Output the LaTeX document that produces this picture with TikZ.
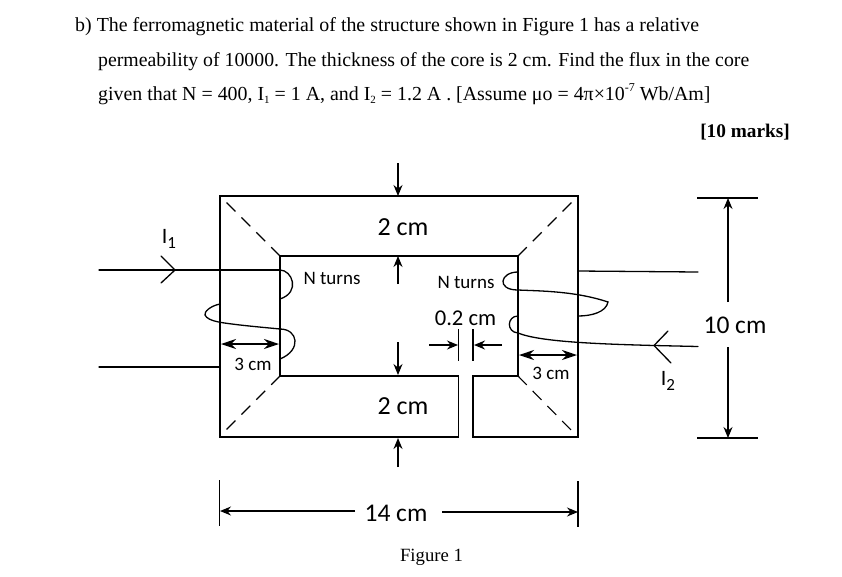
\documentclass[tikz,border=0pt]{standalone}
\usepackage{fontspec}
\setmainfont{Liberation Serif}
\newfontfamily\calib{Carlito}
\usetikzlibrary{arrows.meta}
\tikzset{
  core/.style={line width=1.4pt,line join=miter},
  wire/.style={line width=1.3pt,line cap=round},
  diag/.style={line width=1.1pt,dash pattern=on 12.5pt off 8.5pt},
  dim/.style={line width=1.2pt,-{Stealth[length=11pt,width=9pt]}},
  dimb/.style={line width=1.3pt,{Stealth[length=15pt,width=10pt]}-{Stealth[length=15pt,width=10pt]}},
  tick/.style={line width=1.2pt},
  body/.style={anchor=base west,inner sep=0pt,font=\fontsize{19.9}{22}\selectfont},
  lab/.style={inner sep=0pt,font=\calib\fontsize{25.5}{27}\selectfont},
  lbs/.style={inner sep=0pt,font=\calib\fontsize{19}{21}\selectfont},
}
\newcommand{\sbs}[1]{\raisebox{-0.18em}{\fontsize{11}{11}\selectfont #1}}
\begin{document}
\begin{tikzpicture}[x=1pt,y=-1pt]
\useasboundingbox (0,0) rectangle (842,576);
% core corners
\coordinate (OTL) at (220,196); \coordinate (OTR) at (578,196);
\coordinate (OBL) at (220,437); \coordinate (OBR) at (578,437);
\coordinate (ITL) at (280,256); \coordinate (ITR) at (518,256);
\coordinate (IBL) at (280,376); \coordinate (IBR) at (518,376);
\coordinate (GTL) at (458.7,376); \coordinate (GBL) at (458.7,437);
\coordinate (GTR) at (473,376); \coordinate (GBR) at (473,437);
% text
\node[body] (t1) at (75,31) {b) The ferromagnetic material of the structure shown in Figure 1 has a relative};
\node[body,font=\fontsize{19.8}{22}\selectfont] (t2) at (98,66) {permeability of 10000. The thickness of the core is 2 cm. Find the flux in the core};
\node[body] (t3) at (98,100) {given that N = 400, I\sbs{1} = 1 A, and I\sbs{2} = 1.2 A . [Assume μo = 4π×10\raisebox{0.45em}{\fontsize{12}{12}\selectfont -7} Wb/Am]};
\node[body,anchor=base east,font=\fontsize{19.3}{21}\selectfont\bfseries] (marks) at (790,137) {[10 marks]};
\node[body,anchor=base,font=\fontsize{18.7}{20}\selectfont] (fig) at (431.5,561) {Figure 1};
% core outline
\draw[core] (GTL) -- (IBL) -- (ITL) -- (ITR) -- (IBR) -- (GTR) -- (GBR) -- (OBR) -- (OTR) -- (OTL) -- (OBL) -- (GBL) -- cycle;
% diagonals
\draw[diag] (ITL) -- (224,200);
\draw[diag] (ITR) -- (574,200);
\draw[diag] (IBL) -- (224,432);
\draw[diag] (IBR) -- (574,433);
% left winding
\coordinate (L1) at (99,270); \coordinate (L2) at (99,367); \coordinate (L3) at (220,367);
\coordinate (CH1) at (175,270);
\draw[wire] (L1) -- (280,270);
\draw[wire] (161,256) -- (CH1) -- (161,283);
\draw[wire] (280,270) .. controls (292,270) and (301,292) .. (280,299);
\draw[wire] (220,304) .. controls (210,306) and (204,312) .. (205,315) .. controls (208,322) and (225,323) .. (240,325) .. controls (258,327) and (270,328) .. (280,329) .. controls (298,329) and (302,350) .. (280,359);
\draw[wire] (L2) -- (L3);
% right winding
\coordinate (R1) at (698,272); \coordinate (R2) at (698,346.5); \coordinate (CH2) at (654,345.5);
\draw[wire] (578,271) -- (R1);
\draw[wire] (518,272) .. controls (500,272) and (496,290) .. (518,290) .. controls (540,291) and (575,291) .. (608,302) .. controls (606,312) and (592,316) .. (578,316);
\draw[wire] (518,316) .. controls (507,316) and (506,332) .. (518,333) .. controls (540,342) and (600,344) .. (CH2) -- (R2);
\draw[wire] (668,331) -- (CH2) -- (671,363);
% labels
\node[lab,font=\calib\fontsize{22}{24}\selectfont] (i1) at (169,239) {I\raisebox{-0.25em}{\fontsize{17}{17}\selectfont 1}};
\node[lab,font=\calib\fontsize{22}{24}\selectfont] (i2) at (668,381) {I\raisebox{-0.25em}{\fontsize{17}{17}\selectfont 2}};
\node[lbs] (nl) at (332,278) {N turns};
\node[lbs] (nr) at (466,282) {N turns};
\node[lab,font=\calib\fontsize{22.6}{24}\selectfont] (g) at (465.5,318) {0.2 cm};
\node[lbs] (l3) at (253,364) {3 cm};
\node[lbs] (r3) at (551,373) {3 cm};
\node[lab,font=\calib\fontsize{26}{28}\selectfont] (top2) at (403,227) {2 cm};
\node[lab,font=\calib\fontsize{26}{28}\selectfont] (bot2) at (403,406) {2 cm};
\node[lab] (w14) at (396,513) {14 cm};
\node[lab] (h10) at (735,325) {10 cm};
% 3 cm dimensions
\draw[dimb] (221,344) -- (279,344);
\draw[dimb] (519,355) -- (577,355);
% 2 cm arrows
\draw[dim] (398,163) -- (398,196);
\draw[dim] (398,284) -- (398,256);
\draw[dim] (398,342) -- (398,375);
\draw[dim] (398,467) -- (398,438);
% gap
\draw[tick] (458.7,329) -- (458.7,361);
\draw[tick] (473,329) -- (473,361);
\draw[dim] (429,345) -- (458,345);
\draw[dim] (502,345) -- (474,345);
% 10 cm
\coordinate (VT) at (728,198); \coordinate (VB) at (728,438);
\draw[tick] (697,198) -- (758,198);
\draw[tick] (697,438) -- (758,438);
\draw[dim] (728,302) -- (VT);
\draw[dim] (728,347) -- (VB);
% 14 cm
\coordinate (HL) at (220,511); \coordinate (HR) at (578,512);
\draw[tick] (219.5,480) -- (219.5,526);
\draw[tick] (578,481) -- (578,527);
\draw[dim] (355,511) -- (HL);
\draw[dim] (442,512) -- (HR);
\end{tikzpicture}
\end{document}
